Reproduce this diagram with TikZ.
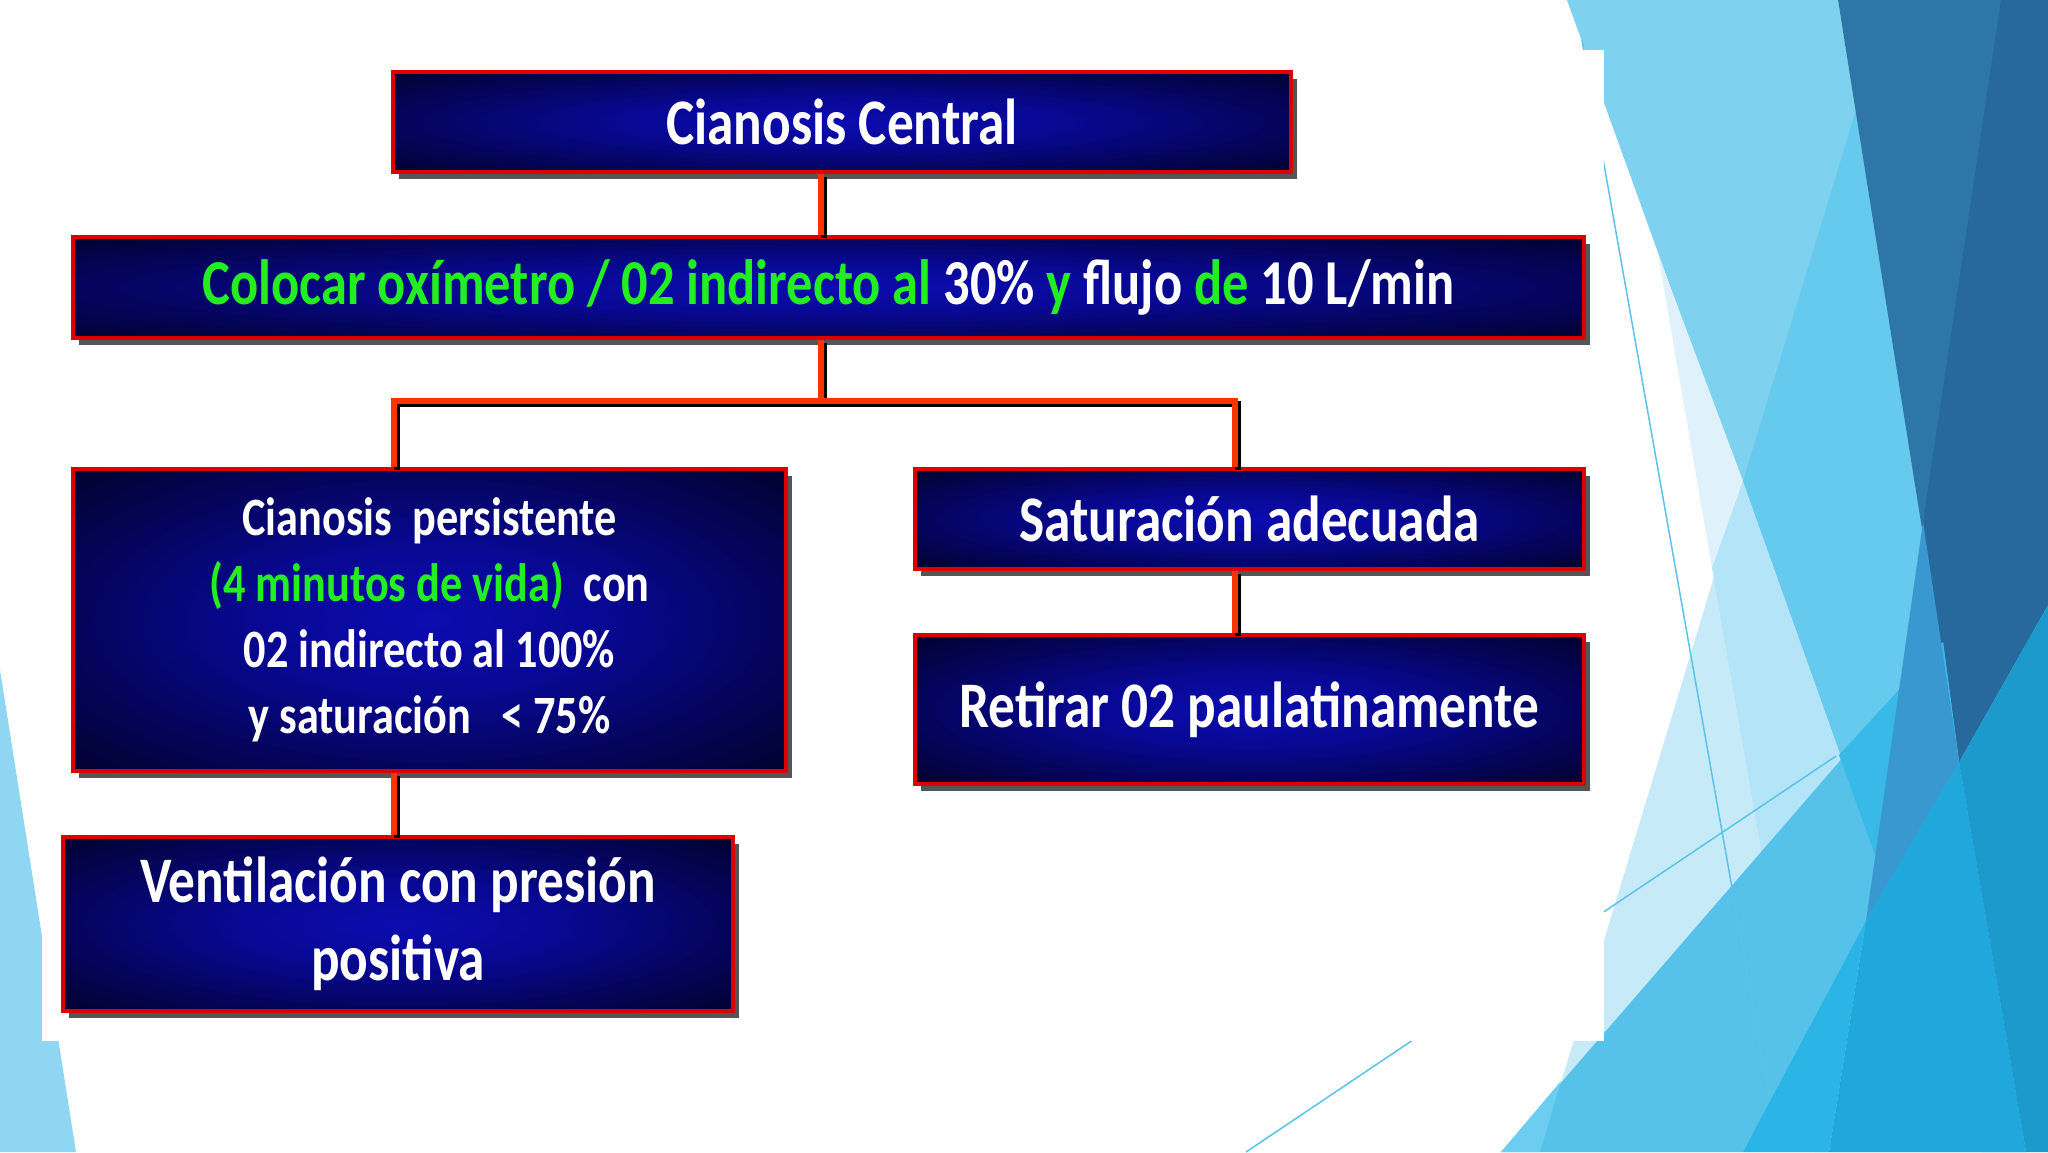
\documentclass[tikz,border=0pt]{standalone}
\usepackage{fontspec}
\setmainfont{Carlito}[FakeStretch=0.82]
\usetikzlibrary{shadows}
\definecolor{rojo}{RGB}{220,0,0}
\definecolor{naranja}{RGB}{255,51,0}
\definecolor{verde}{RGB}{34,238,34}
\definecolor{sombra}{RGB}{85,85,85}
\definecolor{azul1}{RGB}{12,12,176}
\definecolor{azul2}{RGB}{8,8,148}
\definecolor{azul3}{RGB}{4,4,90}
\definecolor{azul4}{RGB}{1,1,36}
\definecolor{azul5}{RGB}{0,0,12}
\definecolor{celeste}{RGB}{126,210,240}
\definecolor{celeste2}{RGB}{142,214,242}
\definecolor{palido}{RGB}{198,234,248}
\definecolor{palido2}{RGB}{179,228,247}
\definecolor{palido3}{RGB}{223,242,251}
\definecolor{medio}{RGB}{102,201,238}
\definecolor{oscuro}{RGB}{46,118,167}
\definecolor{oscuro2}{RGB}{39,105,156}
\definecolor{cielo}{RGB}{86,194,234}
\definecolor{cielo2}{RGB}{108,205,240}
\definecolor{cielo3}{RGB}{56,185,231}
\definecolor{franja}{RGB}{58,152,208}
\definecolor{turq1}{RGB}{43,180,230}
\definecolor{turq2}{RGB}{32,167,220}
\definecolor{turq3}{RGB}{28,154,204}
\definecolor{hilo}{RGB}{91,195,234}
\pgfdeclareradialshading{brillo}{\pgfpoint{0bp}{0bp}}{color(0bp)=(azul1); color(12bp)=(azul2); color(25bp)=(azul3); color(38bp)=(azul4); color(50bp)=(azul5); color(75bp)=(azul5)}
\tikzset{
  caja/.style={draw=rojo, line width=4pt, shading=brillo, text=white, inner sep=0pt, align=center,
    drop shadow={shadow xshift=6pt, shadow yshift=-7pt, fill=sombra, opacity=1}},
  grande/.style={font=\bfseries\fontsize{65}{78}\selectfont},
  media/.style={font=\bfseries\fontsize{64}{76}\selectfont},
  chica/.style={font=\bfseries\fontsize{54}{66}\selectfont},
  enlace/.style={draw=naranja, line width=6pt},
  sombralinea/.style={draw=black, line width=6pt},
  hilofino/.style={draw=hilo, line width=1.5pt}
}
\begin{document}
\begin{tikzpicture}[x=1pt,y=-1pt]
\useasboundingbox (0,0) rectangle (2048,1152);
\fill[white] (0,0) rectangle (2048,1152);

\fill[celeste2] (0,670) -- (76,1152) -- (0,1152) -- cycle;
\fill[celeste] (1567,0) -- (1838,0) -- (2026,1152) -- (1982,1152) -- cycle;
\fill[palido3] (1658,254) -- (1743,481) -- (1712,568) -- cycle;
\fill[palido] (1743,481) -- (1982,1152) -- (1540,1152) -- cycle;
\fill[palido2] (1743,481) -- (1712,568) -- (1814,1152) -- (1982,1152) -- cycle;
\fill[medio] (1856,110) -- (1743,481) -- (1982,1152) -- (2026,1152) -- cycle;
\fill[oscuro] (1838,0) -- (2048,0) -- (2048,605) -- (1959,762) -- cycle;
\fill[oscuro2] (2001,0) -- (2048,0) -- (2048,605) -- (1959,762) -- (1923,522) -- cycle;
\fill[cielo] (1501,1152) -- (1943,642) -- (1959,762) -- (1743,1152) -- cycle;
\fill[cielo2] (1561,1081) -- (1540,1152) -- (1501,1152) -- cycle;
\fill[cielo3] (1839,755) -- (1943,642) -- (1959,762) -- (1888,891) -- cycle;
\fill[franja] (1923,522) -- (1959,762) -- (1866,921) -- cycle;
\fill[turq1] (1866,921) -- (1829,1152) -- (1743,1152) -- cycle;
\fill[turq2] (1866,921) -- (1959,762) -- (2026,1152) -- (1829,1152) -- cycle;
\fill[turq3] (1959,762) -- (2048,605) -- (2048,1152) -- (2026,1152) -- cycle;
\draw[hilofino] (1582,40) -- (1769,1097);
\draw[hilofino] (1246,1152) -- (1836,756);

\fill[white] (42,50) rectangle (1604,1041);

\node[caja, grande, minimum width=898pt, minimum height=100pt] (central) at (842,122) {Cianosis Central};
\node[caja, media, minimum width=1511pt, minimum height=101pt] (colocar) at (828.5,287.5)
  {\textcolor{verde}{Colocar oxímetro / 02 indirecto al} 30\% \textcolor{verde}{y} flujo \textcolor{verde}{de} 10 L/min};
\node[caja, chica, minimum width=713pt, minimum height=302pt] (persistente) at (429.5,620)
  {Cianosis~~persistente\\\textcolor{verde}{(4 minutos de vida)}~~con\\02 indirecto al 100\%\\y saturación~~~< 75\%};
\node[caja, grande, minimum width=669pt, minimum height=100pt] (adecuada) at (1249.5,519) {Saturación adecuada};
\node[caja, grande, minimum width=669pt, minimum height=149pt] (retirar) at (1249.5,709.5) {Retirar 02 paulatinamente};
\node[caja, grande, minimum width=670pt, minimum height=174pt] (ventilacion) at (398,924) {Ventilación con presión\\positiva};

\coordinate (barra) at (821,401);
\coordinate (izq) at (394,401);
\coordinate (der) at (1235,401);

\foreach \estilo/\d in {sombralinea/3, enlace/0}
{
\begin{scope}[transform canvas={shift={(\d,\d)}}]
\draw[\estilo] (barra |- central.south) -- (barra |- colocar.north);
\draw[\estilo] (barra |- colocar.south) -- (barra);
\draw[\estilo] (izq |- persistente.north) -- (izq) -- (der) -- (der |- adecuada.north);
\draw[\estilo] (izq |- persistente.south) -- (izq |- ventilacion.north);
\draw[\estilo] (der |- adecuada.south) -- (der |- retirar.north);
\end{scope}
}
\end{tikzpicture}
\end{document}
